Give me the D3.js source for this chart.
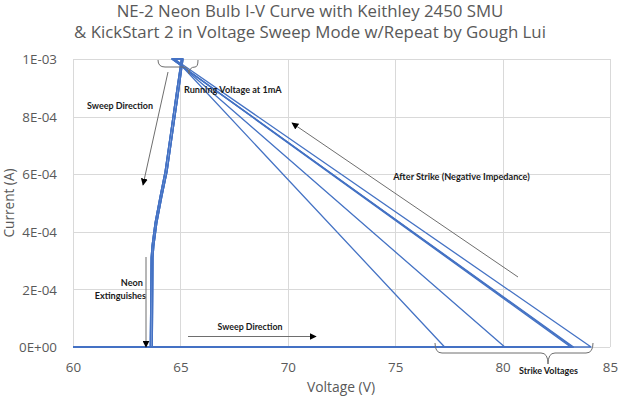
<!DOCTYPE html>
<html><head><meta charset="utf-8">
<script src="https://cdn.jsdelivr.net/npm/d3@7"></script>
<style>html,body{margin:0;padding:0;background:#fff;}svg{display:block;}</style>
</head><body>
<script>
// ---- data ----
const xTicks = [60, 65, 70, 75, 80, 85];
const yTicks = [0, 2e-4, 4e-4, 6e-4, 8e-4, 1e-3];
const yTickLabels = ["0E+00", "2E-04", "4E-04", "6E-04", "8E-04", "1E-03"];
const sweepStartV = 60;
const complianceI = 1.0e-3;
const strikeV = [77.3, 80.1, 83.17, 83.24, 83.3, 84.12];
const peakV = [64.76, 64.68, 64.6, 64.62, 64.6, 64.72];
const returnSet = [0, 1, 0, 1, 0, 1];
const retI = [1.0e-3, 0.89e-3, 0.75e-3, 0.61e-3, 0.52e-3, 0.43e-3, 0.35e-3, 0.31e-3];
const retVA = [65.05, 64.83, 64.56, 64.29, 64.05, 63.82, 63.68, 63.64];
const retVB = [65.12, 64.92, 64.65, 64.38, 64.13, 63.9, 63.76, 63.72];
const offV = [63.6, 63.69];

const W = 620, H = 399;
const svg = d3.select("body").append("svg").attr("width", W).attr("height", H);
const x = d3.scaleLinear().domain([60, 85]).range([73, 610]);
const y = d3.scaleLinear().domain([0, 1e-3]).range([347, 59]);

function fit(sel, target) {
  const n = sel.node();
  const w = n.getComputedTextLength();
  const fs = parseFloat(sel.attr("font-size"));
  if (w > 0) sel.attr("font-size", (fs * target / w).toFixed(2));
  return sel;
}

// title
const tFont = "'Open Sans', 'Noto Sans', sans-serif";
fit(svg.append("text").attr("x", 310).attr("y", 17).attr("text-anchor", "middle")
  .attr("font-family", tFont).attr("font-size", 18).attr("fill", "#595959")
  .text("NE-2 Neon Bulb I-V Curve with Keithley 2450 SMU"), 387);
fit(svg.append("text").attr("x", 310).attr("y", 38).attr("text-anchor", "middle")
  .attr("font-family", tFont).attr("font-size", 18).attr("fill", "#595959")
  .text("& KickStart 2 in Voltage Sweep Mode w/Repeat by Gough Lui"), 472);

// grid
const grid = svg.append("g").attr("stroke", "#d9d9d9").attr("stroke-width", 1);
xTicks.forEach(v => grid.append("line").attr("x1", Math.round(x(v)) + 0.5).attr("x2", Math.round(x(v)) + 0.5)
  .attr("y1", y(1e-3)).attr("y2", y(0)));
yTicks.forEach(v => grid.append("line").attr("y1", Math.round(y(v)) + 0.5).attr("y2", Math.round(y(v)) + 0.5)
  .attr("x1", x(60)).attr("x2", x(85)));

// axes
const xAxis = d3.axisBottom(x).tickValues(xTicks).tickSize(0).tickPadding(0).tickFormat(d3.format("d"));
const gx = svg.append("g").attr("transform", "translate(0,347)").call(xAxis);
gx.select(".domain").remove();
gx.selectAll("text").attr("y", 20).attr("dy", "0.35em").attr("fill", "#595959")
  .attr("font-family", tFont).attr("font-size", 13);
const yAxis = d3.axisLeft(y).tickValues(yTicks).tickSize(0).tickPadding(0)
  .tickFormat((d, i) => yTickLabels[i]);
const gy = svg.append("g").attr("transform", "translate(57,0)").call(yAxis);
gy.select(".domain").remove();
gy.selectAll("text").attr("x", 0).attr("dy", "0.35em").attr("fill", "#595959")
  .attr("font-family", tFont).attr("font-size", 13);
{
  const t = gy.selectAll("text").filter((d, i) => i === 0);
  const w = t.node().getComputedTextLength();
  const fs = 13 * 38 / w;
  gy.selectAll("text").attr("font-size", fs);
  gx.selectAll("text").attr("font-size", fs);
}

// axis titles
fit(svg.append("text").attr("x", 341).attr("y", 387).attr("dy", "0.35em").attr("text-anchor", "middle")
  .attr("font-family", tFont).attr("font-size", 14).attr("fill", "#595959").text("Voltage (V)"), 68);
fit(svg.append("text").attr("transform", "translate(9,203) rotate(-90)").attr("dy", "0.35em").attr("text-anchor", "middle")
  .attr("font-family", tFont).attr("font-size", 14).attr("fill", "#595959").text("Current (A)"), 69);

// data
svg.append("clipPath").attr("id", "pc").append("rect")
  .attr("x", 72).attr("y", 56).attr("width", 540).attr("height", 294);
const line = d3.line().x(d => x(d[0])).y(d => y(d[1]));
const cycles = strikeV.map((sv, i) => {
  const rv = returnSet[i] === 0 ? retVA : retVB;
  const pts = [[sweepStartV, 0], [sv, 0], [peakV[i], complianceI]];
  rv.forEach((v, k) => pts.push([v, retI[k]]));
  pts.push([offV[returnSet[i]], 0]);
  pts.push([sweepStartV, 0]);
  return pts;
});
svg.append("g").attr("clip-path", "url(#pc)").selectAll("path").data(cycles).join("path")
  .attr("d", line).attr("fill", "none").attr("stroke", "#4472C4").attr("stroke-width", 1.3)
  .attr("stroke-linejoin", "round");

// annotations
const defs = svg.append("defs");
defs.append("marker").attr("id", "ah").attr("viewBox", "0 0 10 10").attr("refX", 9).attr("refY", 5)
  .attr("markerWidth", 7).attr("markerHeight", 7).attr("orient", "auto").attr("markerUnits", "userSpaceOnUse")
  .append("path").attr("d", "M0,0 L10,5 L0,10 Z").attr("fill", "#000");
const ann = svg.append("g");
function arrow(x1, y1, x2, y2) {
  ann.append("line").attr("x1", x1).attr("y1", y1).attr("x2", x2).attr("y2", y2)
    .attr("stroke", "#6e6e6e").attr("stroke-width", 1).attr("marker-end", "url(#ah)");
}
const aFont = "Lato, 'Open Sans', sans-serif";
function label(txt, cx, cy, w, anchor) {
  const s = ann.append("text").attr("x", cx).attr("y", cy).attr("dy", "0.35em")
    .attr("text-anchor", anchor || "middle").attr("font-family", aFont)
    .attr("font-weight", "bold").attr("font-size", 9).attr("fill", "#1a1a1a").text(txt);
  return w ? fit(s, w) : s;
}
const rv = label("Running Voltage at 1mA", 184, 90, 98, "start");
const annFs = rv.attr("font-size");
label("Sweep Direction", 120, 106, 66);
arrow(168, 72, 143, 185);
ann.append("path").attr("d", "M158,60 Q158,67 165,67 L183,67 Q189,67 189,74 Q189,67 195,67 Q198,67 198,60")
  .attr("fill", "none").attr("stroke", "#6e6e6e").attr("stroke-width", 1);
label("After Strike (Negative Impedance)", 461.5, 177, 137);
arrow(518, 277, 292, 123);
label("Neon", 143, 283, 0, "end").attr("font-size", annFs);
label("Extinguishes", 146, 296, 0, "end").attr("font-size", annFs);
arrow(146, 257, 146, 347);
label("Sweep Direction", 250, 327, 65);
arrow(188, 336.5, 316, 336.5);
ann.append("path").attr("d", "M435,343 Q435,353 442,353 L541,353 Q548,353 548,364 Q548,353 555,353 L586,353 Q593,353 593,343")
  .attr("fill", "none").attr("stroke", "#6e6e6e").attr("stroke-width", 1);
label("Strike Voltages", 548.5, 371, 59);
</script>
</body></html>
